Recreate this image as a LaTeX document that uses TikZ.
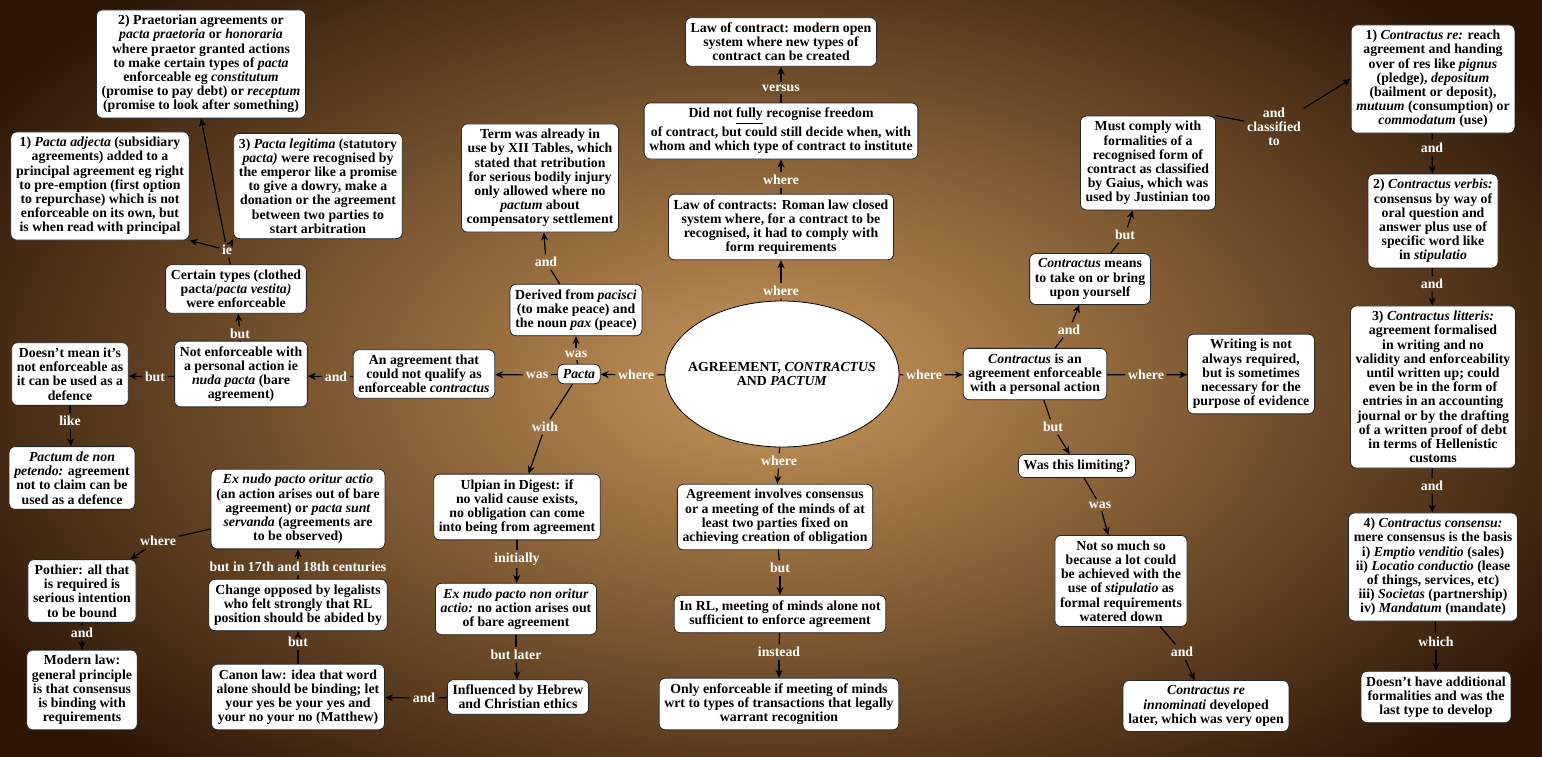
\documentclass[tikz,border=0pt]{standalone}
\usepackage{fontspec}
\setmainfont{Liberation Serif}
\usetikzlibrary{arrows.meta,shapes.geometric}
\begin{document}
\begin{tikzpicture}[x=0.5pt,y=-0.5pt,
 box/.style={draw=black!85,fill=white,rounded corners=3pt,align=center,inner sep=2.6pt,font=\fontsize{6.9}{7.1}\selectfont\bfseries,line width=0.4pt},
 lab/.style={text=white,font=\fontsize{6.9}{7.1}\selectfont\bfseries,inner sep=1.2pt,align=center},
 ln/.style={draw=black,line width=0.6pt},
 arr/.style={ln,-{Stealth[length=4pt,width=3.5pt]}}]
\useasboundingbox (0,0) rectangle (1542,756);
\fill[black!90!brown] (0,0) rectangle (1542,756);
\shade[inner color={rgb,255:red,200;green,150;blue,90},outer color={rgb,255:red,45;green,22;blue,6}] (-150,-150) rectangle (1692,906);
% center
\node[draw=black,fill=white,ellipse,inner xsep=-12pt,inner ysep=0pt,minimum width=117pt,minimum height=73pt,align=center,font=\fontsize{6.9}{7.1}\selectfont\bfseries] (c) at (782,374) {AGREEMENT, \textit{CONTRACTUS}\\AND \textit{PACTUM}};
% left side
\node[box] (pacta) at (579,374) {\textit{Pacta}};
\node[box] (agr) at (424,374) {An agreement that\\could not qualify as\\enforceable \textit{contractus}};
\node[box] (notenf) at (241,374) {Not enforceable with\\a personal action ie\\\textit{nuda pacta} (bare\\agreement)};
\node[box] (dm) at (70,374) {Doesn't mean it's\\not enforceable as\\it can be used as a\\defence};
\node[box] (pdnp) at (72,478) {\textit{Pactum de non}\\\textit{petendo:} agreement\\not to claim can be\\used as a defence};
\node[box] (cert) at (236,289) {Certain types (clothed\\pacta/\textit{pacta vestita)}\\were enforceable};
\node[box] (adj) at (100,186) {1) \textit{Pacta adjecta} (subsidiary\\agreements) added to a\\principal agreement eg right\\to pre-emption (first option\\to repurchase) which is not\\enforceable on its own, but\\is when read with principal};
\node[box] (leg) at (318,186) {3) \textit{Pacta legitima} (statutory\\\textit{pacta)} were recognised by\\the emperor like a promise\\to give a dowry, make a\\donation or the agreement\\between two parties to\\start arbitration};
\node[box] (prae) at (201,64) {2) Praetorian agreements or\\\textit{pacta praetoria} or \textit{honoraria}\\where praetor granted actions\\to make certain types of \textit{pacta}\\enforceable eg \textit{constitutum}\\(promise to pay debt) or \textit{receptum}\\(promise to look after something)};
\node[box] (der) at (576,310) {Derived from \textit{pacisci}\\(to make peace) and\\the noun \textit{pax} (peace)};
\node[box] (term) at (540,178) {Term was already in\\use by XII Tables, which\\stated that retribution\\for serious bodily injury\\only allowed where no\\\textit{pactum} about\\compensatory settlement};
\node[box] (ulp) at (517,507) {Ulpian in Digest: if\\no valid cause exists,\\no obligation can come\\into being from agreement};
\node[box] (exnon) at (516,609) {\textit{Ex nudo pacto non oritur}\\\textit{actio:} no action arises out\\of bare agreement};
\node[box] (infl) at (518,697) {Influenced by Hebrew\\and Christian ethics};
\node[box] (canon) at (298,697) {Canon law: idea that word\\alone should be binding; let\\your yes be your yes and\\your no your no (Matthew)};
\node[box] (chg) at (298,605) {Change opposed by legalists\\who felt strongly that RL\\position should be abided by};
\node[box] (exor) at (298,509) {\textit{Ex nudo pacto oritur actio}\\(an action arises out of bare\\agreement) or \textit{pacta sunt}\\\textit{servanda} (agreements are\\to be observed)};
\node[box] (poth) at (82,591) {Pothier: all that\\is required is\\serious intention\\to be bound};
\node[box] (mod) at (82,690) {Modern law:\\general principle\\is that consensus\\is binding with\\requirements};
% middle
\node[box] (lc1) at (781,42) {Law of contract: modern open\\system where new types of\\contract can be created};
\node[box] (dnf) at (781,131) {Did not \underline{fully} recognise freedom\\of contract, but could still decide when, with\\whom and which type of contract to institute};
\node[box] (lc2) at (781,227) {Law of contracts: Roman law closed\\system where, for a contract to be\\recognised, it had to comply with\\form requirements};
\node[box] (ai) at (775,517) {Agreement involves consensus\\or a meeting of the minds of at\\least two parties fixed on\\achieving creation of obligation};
\node[box] (rl) at (780,614) {In RL, meeting of minds alone not\\sufficient to enforce agreement};
\node[box] (only) at (779,704) {Only enforceable if meeting of minds\\wrt to types of transactions that legally\\warrant recognition};
% right
\node[box] (ci) at (1035,374) {\textit{Contractus} is an\\agreement enforceable\\with a personal action};
\node[box] (wr) at (1251,374) {Writing is not\\always required,\\but is sometimes\\necessary for the\\purpose of evidence};
\node[box] (cm) at (1090,279) {\textit{Contractus} means\\to take on or bring\\upon yourself};
\node[box] (must) at (1148,163) {Must comply with\\formalities of a\\recognised form of\\contract as classified\\by Gaius, which was\\used by Justinian too};
\node[box] (wtl) at (1077,466) {Was this limiting?};
\node[box] (nsm) at (1121,581) {Not so much so\\because a lot could\\be achieved with the\\use of \textit{stipulatio} as\\formal requirements\\watered down};
\node[box] (inn) at (1206,706) {\textit{Contractus re}\\\textit{innominati} developed\\later, which was very open};
\node[box] (re) at (1433,79) {1) \textit{Contractus re:} reach\\agreement and handing\\over of res like \textit{pignus}\\(pledge), \textit{depositum}\\(bailment or deposit),\\\textit{mutuum} (consumption) or\\\textit{commodatum} (use)};
\node[box] (verb) at (1433,221) {2) \textit{Contractus verbis:}\\consensus by way of\\oral question and\\answer plus use of\\specific word like\\in \textit{stipulatio}};
\node[box] (litt) at (1433,387) {3) \textit{Contractus litteris:}\\agreement formalised\\in writing and no\\validity and enforceability\\until written up; could\\even be in the form of\\entries in an accounting\\journal or by the drafting\\of a written proof of debt\\in terms of Hellenistic\\customs};
\node[box] (cons) at (1433,567) {4) \textit{Contractus consensu:}\\mere consensus is the basis\\i) \textit{Emptio venditio} (sales)\\ii) \textit{Locatio conductio} (lease\\of things, services, etc)\\iii) \textit{Societas} (partnership)\\iv) \textit{Mandatum} (mandate)};
\node[box] (last) at (1436,697) {Doesn't have additional\\formalities and was the\\last type to develop};
% labels
\node[lab] (l1) at (636,375) {where};
\node[lab] (l2) at (537,375) {was};
\node[lab] (l3) at (336,377) {and};
\node[lab] (l4) at (155,377) {but};
\node[lab] (l5) at (70,421) {like};
\node[lab] (l6) at (240,334) {but};
\node[lab] (l7) at (227,250) {ie};
\node[lab] (l8) at (576,354) {was};
\node[lab] (l9) at (546,262) {and};
\node[lab] (l10) at (545,427) {with};
\node[lab] (l11) at (517,559) {initially};
\node[lab] (l12) at (516,655) {but later};
\node[lab] (l13) at (424,698) {and};
\node[lab] (l14) at (298,642) {but};
\node[lab] (l15) at (298,567) {but in 17th and 18th centuries};
\node[lab] (l16) at (158,541) {where};
\node[lab] (l17) at (82,633) {and};
\node[lab] (m1) at (781,291) {where};
\node[lab] (m2) at (781,180) {where};
\node[lab] (m3) at (781,88) {versus};
\node[lab] (m4) at (779,461) {where};
\node[lab] (m5) at (780,568) {but};
\node[lab] (m6) at (779,652) {instead};
\node[lab] (r1) at (924,375) {where};
\node[lab] (r2) at (1146,375) {where};
\node[lab] (r3) at (1069,330) {and};
\node[lab] (r4) at (1125,235) {but};
\node[lab] (r5) at (1274,127) {and\\classified\\to};
\node[lab] (r6) at (1053,427) {but};
\node[lab] (r7) at (1100,505) {was};
\node[lab] (r8) at (1182,652) {and};
\node[lab] (r9) at (1432,148) {and};
\node[lab] (r10) at (1432,284) {and};
\node[lab] (r11) at (1432,486) {and};
\node[lab] (r12) at (1436,642) {which};
% edges
\draw[ln] (c) -- (l1); \draw[arr] (l1) -- (pacta);
\draw[ln] (pacta) -- (l2); \draw[arr] (l2) -- (agr);
\draw[ln] (agr) -- (l3); \draw[arr] (l3) -- (notenf);
\draw[ln] (notenf) -- (l4); \draw[arr] (l4) -- (dm);
\draw[ln] (dm) -- (l5); \draw[arr] (l5) -- (pdnp);
\draw[ln] (notenf) -- (l6); \draw[arr] (l6) -- (cert);
\draw[ln] (cert) -- (l7);
\draw[arr] (l7) -- (adj.south east);
\draw[arr] (l7) -- (leg.south west);
\draw[arr] (l7) -- (prae.south);
\draw[ln] (pacta) -- (l8); \draw[arr] (l8) -- (der);
\draw[ln] (der) -- (l9); \draw[arr] (l9) -- (term);
\draw[ln] (pacta) -- (l10); \draw[arr] (l10) -- (ulp);
\draw[ln] (ulp) -- (l11); \draw[arr] (l11) -- (exnon);
\draw[ln] (exnon) -- (l12); \draw[arr] (l12) -- (infl);
\draw[ln] (infl) -- (l13); \draw[arr] (l13) -- (canon);
\draw[ln] (canon) -- (l14); \draw[arr] (l14) -- (chg);
\draw[ln] (chg) -- (l15); \draw[arr] (l15) -- (exor);
\draw[ln] (exor) -- (l16); \draw[arr] (l16) -- (poth);
\draw[ln] (poth) -- (l17); \draw[arr] (l17) -- (mod);
\draw[ln] (c) -- (m1); \draw[arr] (m1) -- (lc2);
\draw[ln] (lc2) -- (m2); \draw[arr] (m2) -- (dnf);
\draw[ln] (dnf) -- (m3); \draw[arr] (m3) -- (lc1);
\draw[ln] (c) -- (m4); \draw[arr] (m4) -- (ai);
\draw[ln] (ai) -- (m5); \draw[arr] (m5) -- (rl);
\draw[ln] (rl) -- (m6); \draw[arr] (m6) -- (only);
\draw[ln] (c) -- (r1); \draw[arr] (r1) -- (ci);
\draw[ln] (ci) -- (r2); \draw[arr] (r2) -- (wr);
\draw[ln] (ci) -- (r3); \draw[arr] (r3) -- (cm);
\draw[ln] (cm) -- (r4); \draw[arr] (r4) -- (must);
\draw[ln] (must.north east) -- (r5); \draw[arr] (r5) -- (re.west);
\draw[ln] (ci) -- (r6); \draw[arr] (r6) -- (wtl);
\draw[ln] (wtl) -- (r7); \draw[arr] (r7) -- (nsm);
\draw[ln] (nsm) -- (r8); \draw[arr] (r8) -- (inn);
\draw[ln] (re) -- (r9); \draw[arr] (r9) -- (verb);
\draw[ln] (verb) -- (r10); \draw[arr] (r10) -- (litt);
\draw[ln] (litt) -- (r11); \draw[arr] (r11) -- (cons);
\draw[ln] (cons) -- (r12); \draw[arr] (r12) -- (last);
\end{tikzpicture}
\end{document}
